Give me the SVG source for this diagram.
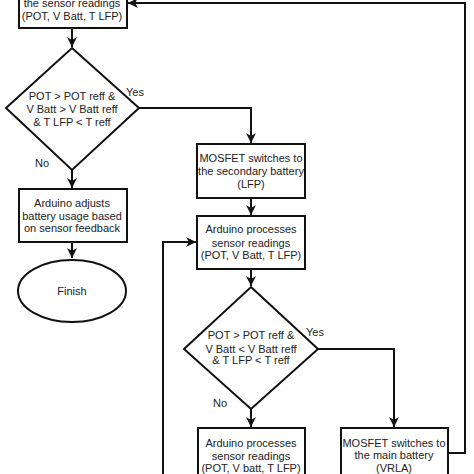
<svg xmlns="http://www.w3.org/2000/svg" width="474" height="474" viewBox="0 0 474 474">
<style>
.s{fill:#fff;stroke:#111;stroke-width:2}
.c{fill:none;stroke:#111;stroke-width:2}
text{font-family:"Liberation Sans",Arial,sans-serif;font-size:11px;fill:#222;text-anchor:middle}
.l{text-anchor:start}
</style>
<defs>
<marker id="a" viewBox="0 0 10 10" refX="10" refY="5" markerWidth="5" markerHeight="5" orient="auto" markerUnits="strokeWidth">
<path d="M0,0 L10,5 L0,10 L3,5 Z" fill="#111"/>
</marker>
</defs>
<rect width="474" height="474" fill="#fff"/>
<g id="connectors">
<path class="c" d="M72,29 V47" marker-end="url(#a)"/>
<path class="c" d="M139,108 H251 V143" marker-end="url(#a)"/>
<path class="c" d="M72,170 V188" marker-end="url(#a)"/>
<path class="c" d="M72,242 V258" marker-end="url(#a)"/>
<path class="c" d="M251,198 V215" marker-end="url(#a)"/>
<path class="c" d="M251,269 V286" marker-end="url(#a)"/>
<path class="c" d="M318,349 H394 V427" marker-end="url(#a)"/>
<path class="c" d="M251,409 V427" marker-end="url(#a)"/>
<path class="c" d="M163,480 V242 H196" marker-end="url(#a)"/>
<path class="c" d="M448,453 H465 V3 H128" marker-end="url(#a)"/>
<text x="135" y="96">Yes</text>
<text x="42" y="167">No</text>
<text x="315" y="336">Yes</text>
<text x="220" y="407">No</text>
</g>
<g id="read1">
<rect class="s" x="19" y="-30" width="108" height="58"/>
<text x="72" y="7">the sensor readings</text>
<text x="72" y="20">(POT, V Batt, T LFP)</text>
</g>
<g id="dec1">
<path class="s" d="M72,48 L139,108 L72,170 L6,108 Z"/>
<text x="72" y="100">POT &gt; POT reff &amp;</text>
<text x="72" y="113">V Batt &gt; V Batt reff</text>
<text x="72" y="126">&amp; T LFP &lt; T reff</text>
</g>
<g id="adjust">
<rect class="s" x="19" y="189" width="108" height="53"/>
<text x="72" y="207">Arduino adjusts</text>
<text x="72" y="220">battery usage based</text>
<text x="72" y="232">on sensor feedback</text>
</g>
<g id="finish">
<ellipse class="s" cx="72" cy="291" rx="54" ry="31"/>
<text x="72" y="295">Finish</text>
</g>
<g id="mosfet2">
<rect class="s" x="197" y="144" width="108" height="54"/>
<text x="251" y="162">MOSFET switches to</text>
<text x="251" y="175">the secondary battery</text>
<text x="251" y="188">(LFP)</text>
</g>
<g id="read2">
<rect class="s" x="197" y="216" width="108" height="53"/>
<text x="251" y="233">Arduino processes</text>
<text x="251" y="247">sensor readings</text>
<text x="251" y="259">(POT, V Batt, T LFP)</text>
</g>
<g id="dec2">
<path class="s" d="M251,287 L318,349 L251,409 L184,349 Z"/>
<text x="251" y="339">POT &gt; POT reff &amp;</text>
<text x="251" y="353">V Batt &lt; V Batt reff</text>
<text x="251" y="364">&amp; T LFP &lt; T reff</text>
</g>
<g id="read3">
<rect class="s" x="198" y="428" width="107" height="60"/>
<text x="251" y="447">Arduino processes</text>
<text x="251" y="460">sensor readings</text>
<text x="251" y="472">(POT, V batt, T LFP)</text>
</g>
<g id="mosfet1">
<rect class="s" x="341" y="428" width="107" height="60"/>
<text x="394" y="447">MOSFET switches to</text>
<text x="394" y="459">the main battery</text>
<text x="394" y="472">(VRLA)</text>
</g>
</svg>
